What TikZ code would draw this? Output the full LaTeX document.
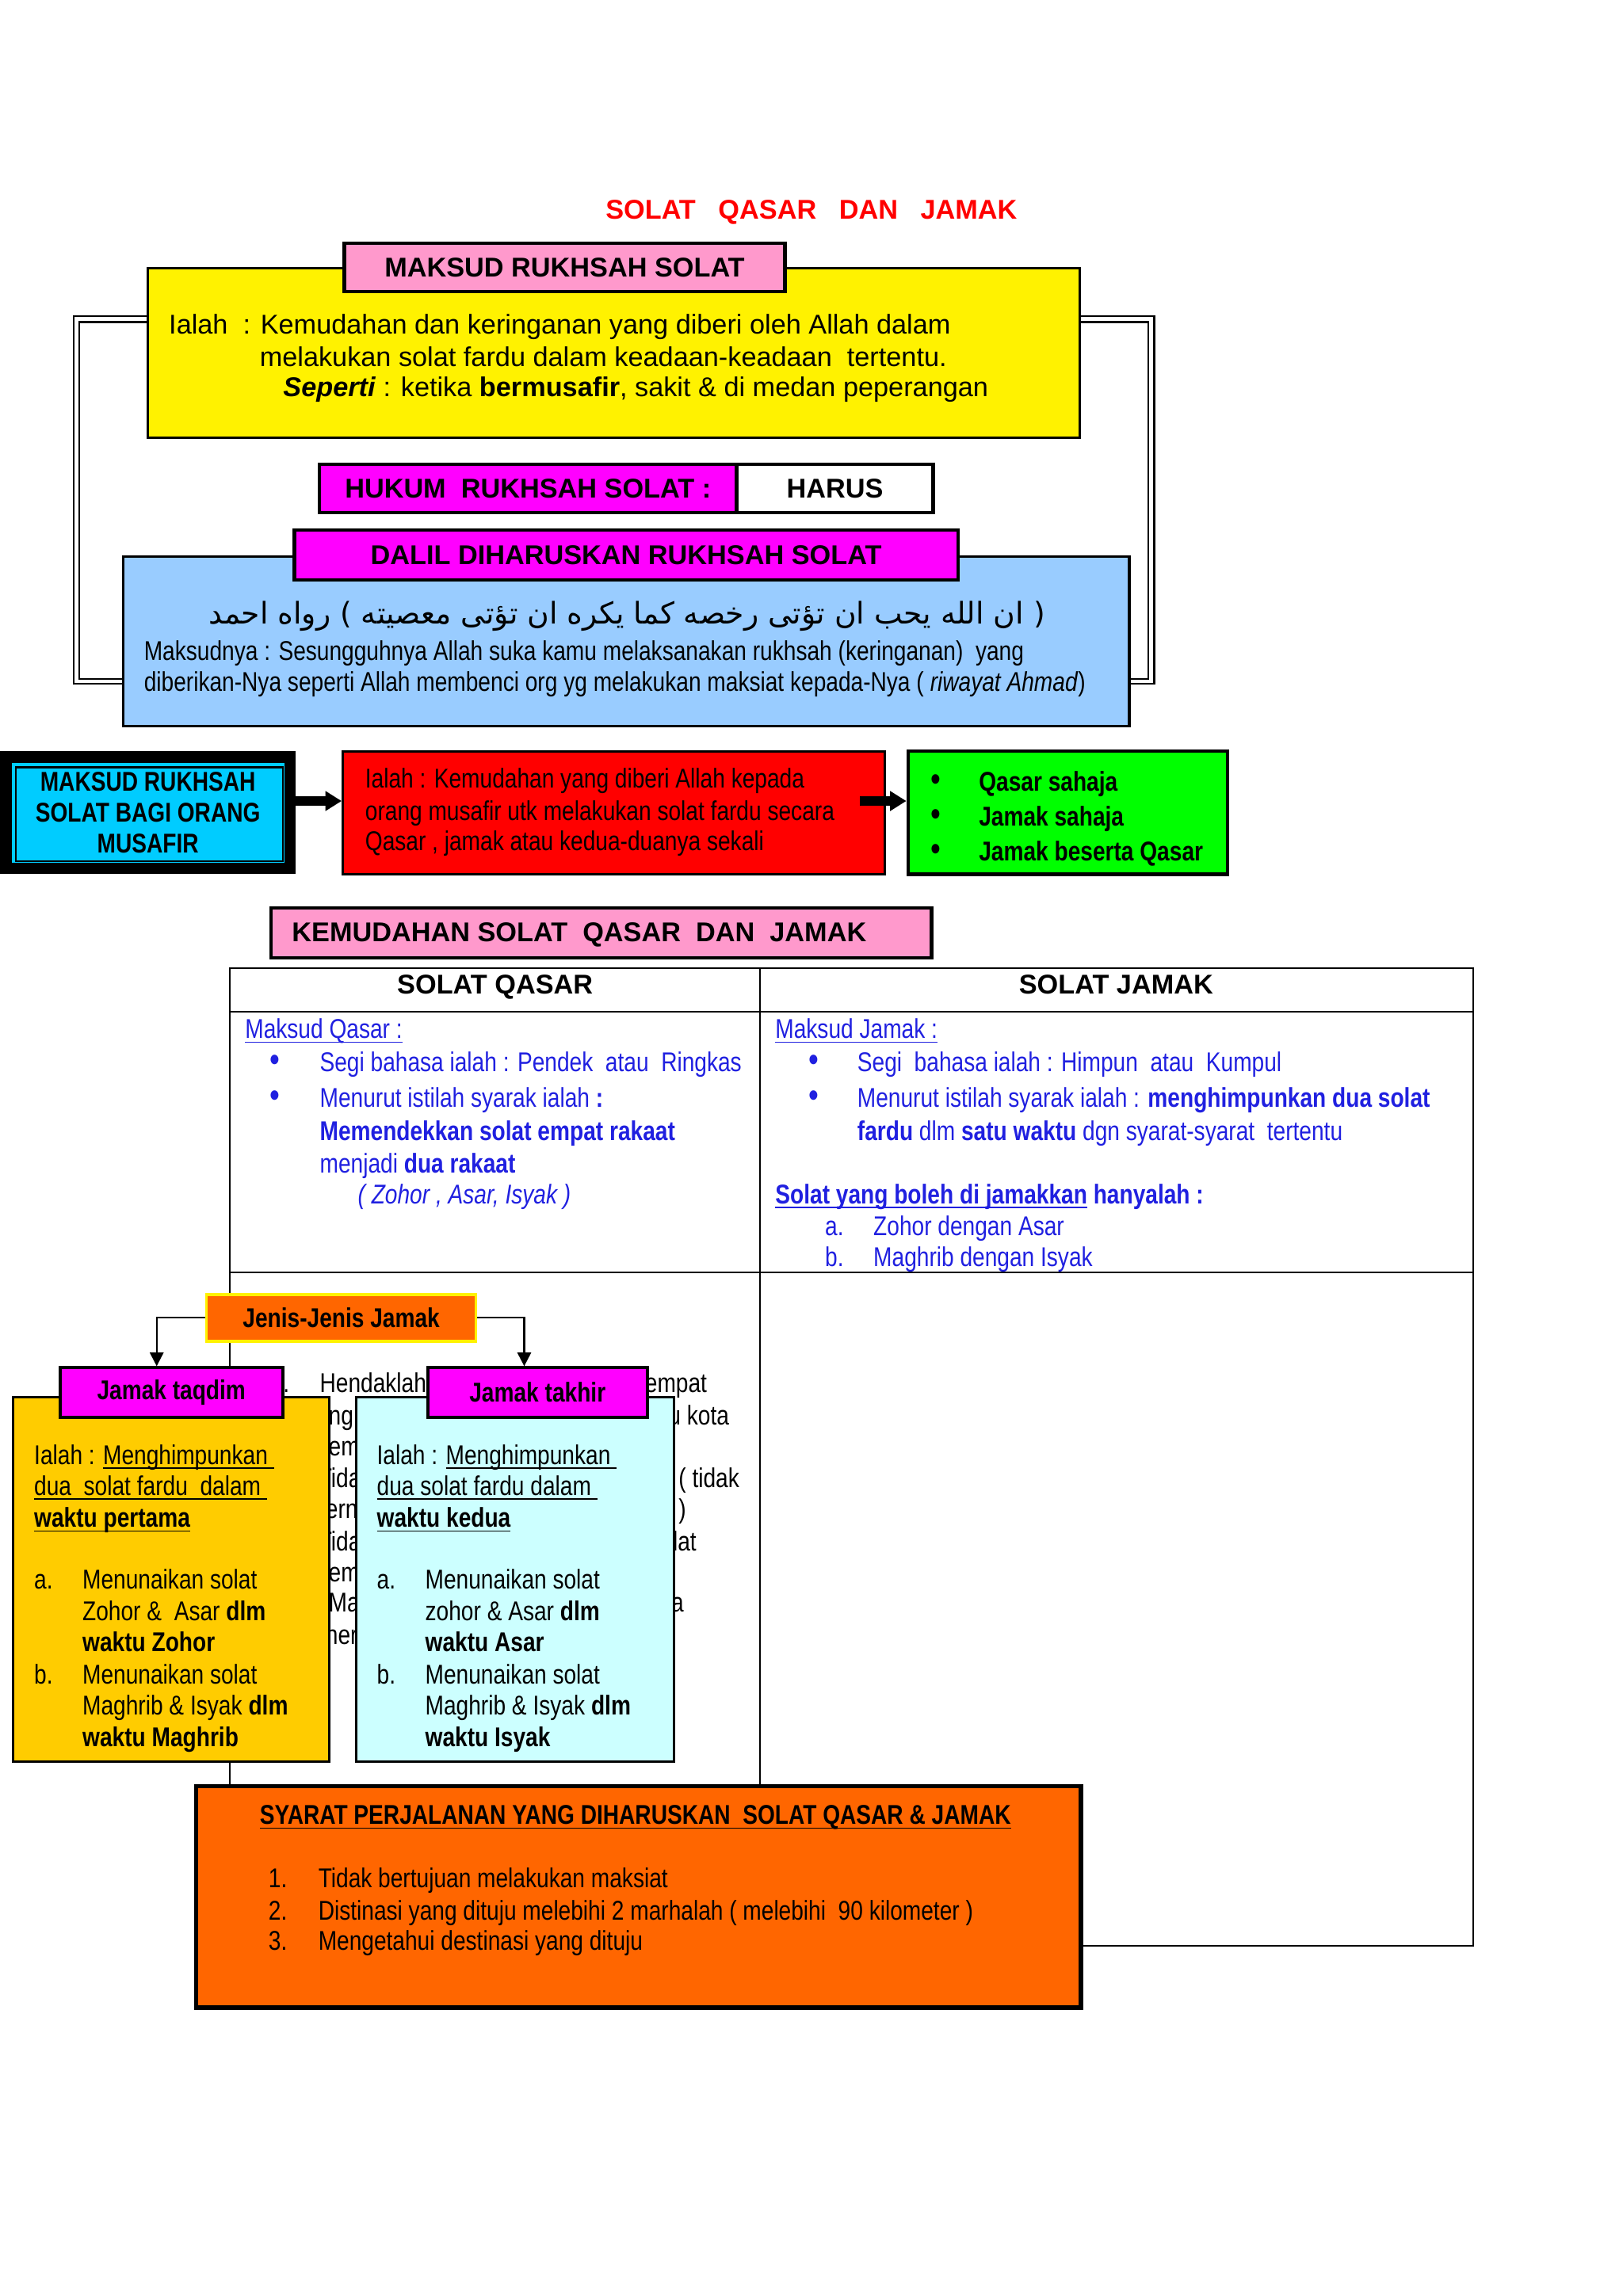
\documentclass[tikz,border=0pt]{standalone}
\usepackage{fontspec}
\setmainfont{Liberation Sans}
\newfontfamily\narrowfont{Liberation Sans}[FakeStretch=0.82]
\newfontfamily\arabicfont[Script=Arabic]{DejaVu Sans}
\TeXXeTstate=1
\usetikzlibrary{arrows.meta,positioning,fit}

\newcommand\uln[1]{\underline{\smash{#1}}}
\newcommand\bigdot{{\fontsize{13}{13}\selectfont\textbullet}}

\definecolor{pinkbox}{HTML}{FF99CC}
\definecolor{magbox}{HTML}{FF00FF}
\definecolor{skybox}{HTML}{99CCFF}
\definecolor{cyanbox}{HTML}{00CCFF}
\definecolor{greenbox}{HTML}{00FF00}
\definecolor{orangebox}{HTML}{FF6600}
\definecolor{goldbox}{HTML}{FFCC00}
\definecolor{icebox}{HTML}{CCFFFF}
\definecolor{inkblue}{HTML}{2020E0}

\begin{document}
\begin{tikzpicture}[x=0.018953cm, y=-0.018953cm,
    box/.style={draw, inner sep=0pt, line width=0.9pt},
    headbox/.style={box, line width=1.3pt},
    headtxt/.style={font=\bfseries\fontsize{10}{12}\selectfont},
    nheadtxt/.style={font=\narrowfont\bfseries\fontsize{10}{12}\selectfont},
    txt/.style={anchor=base west, inner sep=0pt, font=\fontsize{10}{12}\selectfont},
    ntxt/.style={anchor=base west, inner sep=0pt, font=\narrowfont\fontsize{10}{12}\selectfont},
    btxt/.style={ntxt, text=inkblue},
    fatarrow/.style={line width=3.3pt, -{Triangle[length=6pt,width=7pt]}},
    thinarrow/.style={line width=0.6pt, -{Triangle[length=5pt,width=5pt]}}]
\useasboundingbox (0,0) rectangle (1108,1568);

% title
\node[text=red, headtxt] (title) at (554,145) {SOLAT\ \ \ QASAR\ \ \ DAN\ \ \ JAMAK};

% double frame behind the first two boxes
\draw[line width=0.7pt] (50.3,216) rectangle (788,467);
\draw[line width=0.7pt] (54.1,220) rectangle (784,463.7);

% maksud rukhsah
\node[box, fill=yellow, fit={(101,183) (737,299)}] (defbox) {};
\node[headbox, fill=pinkbox, fit={(235,166) (536,199)}] (defhead) {};
\node[headtxt] (defheadtxt) at (defhead.center) {MAKSUD RUKHSAH SOLAT};
\node[txt] (def1) at (115,228) {Ialah\ \ : Kemudahan dan keringanan yang diberi oleh Allah dalam};
\node[txt] (def2) at (177,250) {melakukan solat fardu dalam keadaan-keadaan\ \ tertentu.};
\node[txt] (def3) at (193,271) {\textbf{\textit{Seperti}} : ketika \textbf{bermusafir}, sakit \& di medan peperangan};

% hukum
\node[headbox, fill=magbox, fit={(218,317) (503,350)}] (hukum) {};
\node[headtxt] (hukumtxt) at (hukum.center) {HUKUM\ \ RUKHSAH SOLAT :};
\node[headbox, fill=white, fit={(503,317) (637,350)}] (harus) {};
\node[headtxt] (harustxt) at (harus.center) {HARUS};

% dalil
\node[box, fill=skybox, fit={(84,380) (771,496)}] (dalilbox) {};
\node[headbox, fill=magbox, fit={(201,362) (654,396)}] (dalilhead) {};
\node[headtxt] (dalilheadtxt) at (dalilhead.center) {DALIL DIHARUSKAN RUKHSAH SOLAT};
\node[font=\arabicfont\fontsize{11}{14}\selectfont] (hadis) at (428,421)
    {\beginR( ان الله يحب ان تؤتى رخصه كما يكره ان تؤتى معصيته ) رواه احمد\endR};
\node[ntxt] (maksud1) at (98,451) {Maksudnya : Sesungguhnya Allah suka kamu melaksanakan rukhsah (keringanan)\ \ yang};
\node[ntxt] (maksud2) at (98,472) {diberikan-Nya seperti Allah membenci org yg melakukan maksiat kepada-Nya ( \textit{riwayat Ahmad})};

% musafir row
\node[box, line width=4.3pt, fill=cyanbox, fit={(4,517) (198,593)}] (musafir) {};
\node[draw, line width=0.6pt, inner sep=0pt, fit={(11,524) (193,588)}] (musafirrim) {};
\node[nheadtxt, align=center, font=\narrowfont\bfseries\fontsize{10}{11.3}\selectfont] (musafirtxt) at (musafir.center)
    {MAKSUD RUKHSAH\\SOLAT BAGI ORANG\\MUSAFIR};
\node[box, line width=0.8pt, fill=red, fit={(234,513) (604,597)}] (ertibox) {};
\node[ntxt] (erti1) at (249,538) {Ialah : Kemudahan yang diberi Allah kepada};
\node[ntxt] (erti2) at (249,560) {orang musafir utk melakukan solat fardu secara};
\node[ntxt] (erti3) at (249,581) {Qasar , jamak atau kedua-duanya sekali};
\node[box, line width=1.3pt, fill=greenbox, fit={(620,513) (838,597)}] (carabox) {};
\node[ntxt] (dot1) at (635,540) {\bigdot};
\node[ntxt] (dot2) at (635,564) {\bigdot};
\node[ntxt] (dot3) at (635,588) {\bigdot};
\node[ntxt, nheadtxt] (cara1) at (668,540) {Qasar sahaja};
\node[ntxt, nheadtxt] (cara2) at (668,564) {Jamak sahaja};
\node[ntxt, nheadtxt] (cara3) at (668,588) {Jamak beserta Qasar};
\draw[fatarrow] ([yshift=4.3pt]musafir.east) -- ([yshift=4.3pt]ertibox.west);
\draw[fatarrow] ([shift={(-9.5pt,4.3pt)}]ertibox.east) -- ([yshift=4.3pt]carabox.west);

% kemudahan table
\node[headbox, fill=pinkbox, fit={(185,620) (636,654)}] (kemudahan) {};
\node[ntxt, headtxt] (kemudahantxt) at (199,643) {KEMUDAHAN SOLAT\ \ QASAR\ \ DAN\ \ JAMAK};
\draw[line width=0.5pt] (157,661) rectangle (1006,1329);
\draw[line width=0.5pt] (157,691) -- (1006,691);
\draw[line width=0.5pt] (157,869) -- (1006,869);
\draw[line width=0.5pt] (519,661) -- (519,1329);
\node[headtxt, anchor=base] (qasarhead) at (338,679) {SOLAT QASAR};
\node[headtxt, anchor=base] (jamakhead) at (762,679) {SOLAT JAMAK};

\node[btxt] (qasar0) at (167,709) {\uln{Maksud Qasar :}};
\node[btxt] (qdot1) at (184,732) {\bigdot};
\node[btxt] (qasar1) at (218,732) {Segi bahasa ialah : Pendek\ \ atau\ \ Ringkas};
\node[btxt] (qdot2) at (184,756) {\bigdot};
\node[btxt] (qasar2) at (218,756) {Menurut istilah syarak ialah \textbf{:}};
\node[btxt] (qasar3) at (218,779) {\textbf{Memendekkan solat empat rakaat}};
\node[btxt] (qasar4) at (218,801) {menjadi \textbf{dua rakaat}};
\node[btxt] (qasar5) at (244,822) {\textit{( Zohor , Asar, Isyak )}};

\node[btxt] (jamak0) at (529,709) {\uln{Maksud Jamak :}};
\node[btxt] (jdot1) at (552,732) {\bigdot};
\node[btxt] (jamak1) at (585,732) {Segi\ \ bahasa ialah : Himpun\ \ atau\ \ Kumpul};
\node[btxt] (jdot2) at (552,756) {\bigdot};
\node[btxt] (jamak2) at (585,756) {Menurut istilah syarak ialah : \textbf{menghimpunkan dua solat}};
\node[btxt] (jamak3) at (585,779) {\textbf{fardu} dlm \textbf{satu waktu} dgn syarat-syarat\ \ tertentu};
\node[btxt] (jamak4) at (529,822) {\textbf{\uln{Solat yang boleh di jamakkan} hanyalah :}};
\node[btxt] (ja) at (563,844) {a.};
\node[btxt] (jamak5) at (596,844) {Zohor dengan Asar};
\node[btxt] (jb) at (563,865) {b.};
\node[btxt] (jamak6) at (596,865) {Maghrib dengan Isyak};

% text of the third row, mostly hidden
\node[ntxt] (hid0) at (193,951) {.};
\node[ntxt] (hid1) at (218,951) {Hendaklah};
\node[ntxt] (hid2) at (440,951) {empat};
\node[ntxt] (hid3) at (224,973) {ng};
\node[ntxt] (hid4) at (456,973) {u kota};
\node[ntxt] (hid5) at (224,994) {em};
\node[ntxt] (hid6) at (217,1016) {Tida};
\node[ntxt] (hid7) at (463,1016) {( tidak};
\node[ntxt] (hid8) at (222,1037) {ern};
\node[ntxt] (hid9) at (463,1037) {)};
\node[ntxt] (hid10) at (217,1059) {Tida};
\node[ntxt] (hid11) at (459,1059) {lat};
\node[ntxt] (hid12) at (224,1080) {em};
\node[ntxt] (hid13) at (224,1101) {Mas};
\node[ntxt] (hid14) at (458,1101) {a};
\node[ntxt] (hid15) at (222,1123) {her};

% jenis-jenis jamak
\node[box, fill=goldbox, fit={(9,954) (225,1203)}] (taqdim) {};
\node[headbox, line width=1.1pt, fill=magbox, fit={(41,934) (193,968)}] (taqdimhead) {};
\node[nheadtxt] (taqdimtxt) at (taqdimhead.center) {Jamak taqdim};
\node[box, fill=icebox, fit={(243,954) (460,1203)}] (takhir) {};
\node[headbox, line width=1.1pt, fill=magbox, fit={(292,934) (442,968)}] (takhirhead) {};
\node[nheadtxt] (takhirtxt) at (takhirhead.center) {Jamak takhir};
\node[box, draw=yellow, line width=1pt, fill=orangebox, fit={(141,884) (325,916)}] (jenis) {};
\node[nheadtxt] (jenistxt) at (jenis.center) {Jenis-Jenis Jamak};
\draw[thinarrow] (jenis.west) -| ([xshift=-5.4pt]taqdimhead.north);
\draw[thinarrow] (jenis.east) -| ([xshift=-4.9pt]takhirhead.north);

\node[ntxt] (taq1) at (23,1000) {Ialah : \uln{Menghimpunkan\ }};
\node[ntxt] (taq2) at (23,1021) {\uln{dua\ \ solat fardu\ \ dalam\ }};
\node[ntxt] (taq3) at (23,1043) {\textbf{\uln{waktu pertama}}};
\node[ntxt] (taqa) at (23,1085) {a.};
\node[ntxt] (taq4) at (56,1085) {Menunaikan solat};
\node[ntxt] (taq5) at (56,1107) {Zohor \&\ \ Asar \textbf{dlm}};
\node[ntxt] (taq6) at (56,1128) {\textbf{waktu Zohor}};
\node[ntxt] (taqb) at (23,1150) {b.};
\node[ntxt] (taq7) at (56,1150) {Menunaikan solat};
\node[ntxt] (taq8) at (56,1171) {Maghrib \& Isyak \textbf{dlm}};
\node[ntxt] (taq9) at (56,1193) {\textbf{waktu Maghrib}};

\node[ntxt] (tak1) at (257,1000) {Ialah : \uln{Menghimpunkan\ }};
\node[ntxt] (tak2) at (257,1021) {\uln{dua solat fardu dalam\ }};
\node[ntxt] (tak3) at (257,1043) {\textbf{\uln{waktu kedua}}};
\node[ntxt] (taka) at (257,1085) {a.};
\node[ntxt] (tak4) at (290,1085) {Menunaikan solat};
\node[ntxt] (tak5) at (290,1107) {zohor \& Asar \textbf{dlm}};
\node[ntxt] (tak6) at (290,1128) {\textbf{waktu Asar}};
\node[ntxt] (takb) at (257,1150) {b.};
\node[ntxt] (tak7) at (290,1150) {Menunaikan solat};
\node[ntxt] (tak8) at (290,1171) {Maghrib \& Isyak \textbf{dlm}};
\node[ntxt] (tak9) at (290,1193) {\textbf{waktu Isyak}};

% syarat perjalanan
\node[box, line width=1.5pt, fill=orangebox, fit={(134,1220) (738,1371)}] (syarat) {};
\node[ntxt] (syarat0) at (177,1246) {\textbf{\uln{SYARAT PERJALANAN YANG DIHARUSKAN\ \ SOLAT QASAR \& JAMAK}}};
\node[ntxt] (s1) at (183,1289) {1.};
\node[ntxt] (syarat1) at (217,1289) {Tidak bertujuan melakukan maksiat};
\node[ntxt] (s2) at (183,1311) {2.};
\node[ntxt] (syarat2) at (217,1311) {Distinasi yang dituju melebihi 2 marhalah ( melebihi\ \ 90 kilometer )};
\node[ntxt] (s3) at (183,1332) {3.};
\node[ntxt] (syarat3) at (217,1332) {Mengetahui destinasi yang dituju};
\end{tikzpicture}
\end{document}
